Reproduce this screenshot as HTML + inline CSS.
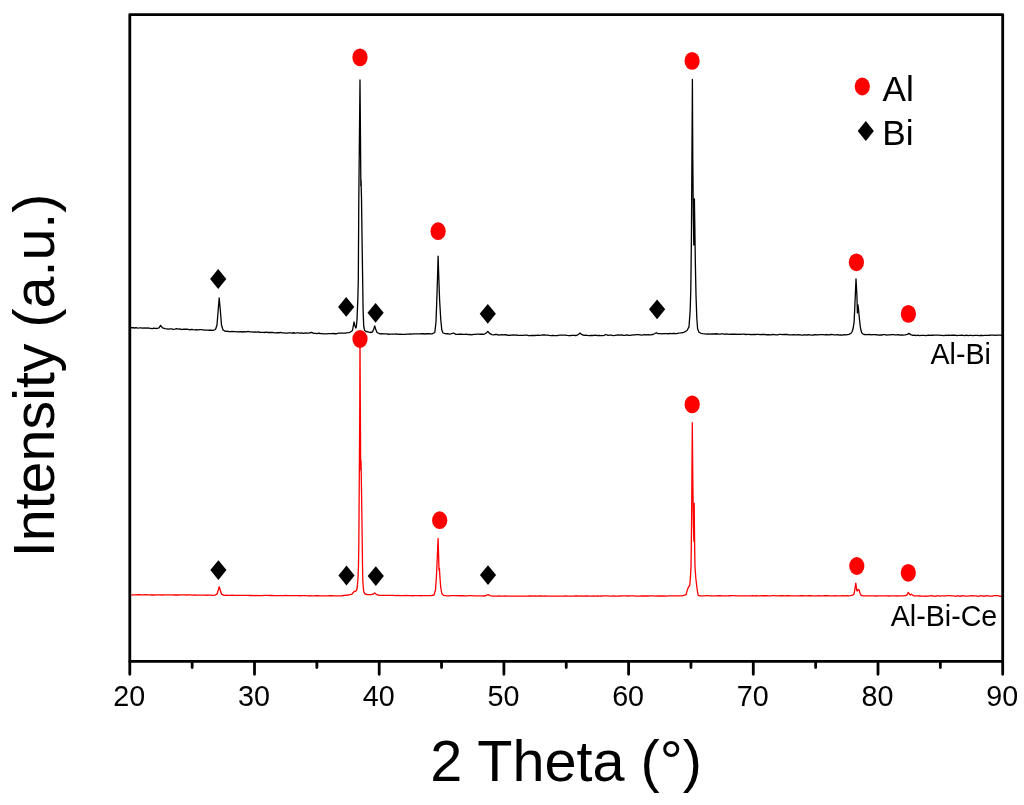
<!DOCTYPE html>
<html lang="en"><head><meta charset="utf-8"><title>XRD patterns of Al-Bi and Al-Bi-Ce</title>
<style>html,body{margin:0;padding:0;background:#fff;}body{width:1024px;height:805px;overflow:hidden;}svg{display:block;}text{font-family:"Liberation Sans",sans-serif;fill:#000;}</style></head><body>
<svg width="1024" height="805" viewBox="0 0 1024 805">
<rect width="1024" height="805" fill="#fff"/>
<path d="M129.75 327.80 L131.35 327.74 L132.96 327.67 L134.56 328.01 L136.16 327.71 L137.76 328.03 L139.37 327.97 L140.97 327.82 L142.57 328.13 L144.18 327.89 L145.78 328.17 L147.38 327.99 L148.99 328.05 L150.59 328.29 L152.19 328.57 L153.79 328.19 L155.40 328.29 L157.00 328.50 L159.00 327.80 L160.60 325.40 L162.50 327.80 L165.00 328.70 L166.67 328.84 L168.33 329.10 L170.00 328.95 L171.67 328.90 L173.33 329.32 L175.00 329.10 L176.60 328.60 L178.50 329.20 L180.14 328.98 L181.79 329.52 L183.43 329.23 L185.07 329.20 L186.71 329.23 L188.36 329.40 L190.00 329.76 L191.64 329.43 L193.29 329.72 L194.93 329.81 L196.57 329.70 L198.21 329.86 L199.86 329.62 L201.50 329.67 L203.14 329.81 L204.79 330.15 L206.43 330.05 L208.07 330.03 L209.71 330.25 L211.36 330.22 L213.00 330.30 L215.50 329.50 L217.00 325.00 L218.20 310.00 L219.20 298.00 L220.30 310.00 L221.50 325.00 L223.00 330.00 L225.50 331.30 L227.21 331.22 L228.92 331.56 L230.62 331.54 L232.33 331.31 L234.04 331.55 L235.75 331.57 L237.46 331.82 L239.17 331.77 L240.88 331.55 L242.58 332.00 L244.29 331.53 L246.00 331.80 L248.00 331.40 L250.00 331.90 L251.61 331.89 L253.23 332.14 L254.84 331.82 L256.45 332.06 L258.06 331.83 L259.68 332.25 L261.29 332.35 L262.90 332.28 L264.52 332.50 L266.13 332.21 L267.74 332.48 L269.35 332.46 L270.97 332.49 L272.58 332.46 L274.19 332.73 L275.81 332.84 L277.42 332.60 L279.03 332.75 L280.65 332.43 L282.26 332.86 L283.87 332.87 L285.48 333.12 L287.10 333.06 L288.71 332.78 L290.32 332.88 L291.94 333.09 L293.55 332.75 L295.16 333.05 L296.77 332.92 L298.39 332.93 L300.00 333.20 L301.80 332.94 L303.60 333.36 L305.40 332.98 L307.20 333.05 L309.00 333.20 L311.40 332.30 L314.00 333.40 L315.60 333.36 L317.20 333.68 L318.80 333.24 L320.40 333.49 L322.00 333.58 L323.60 333.81 L325.20 333.80 L326.80 333.86 L328.40 333.54 L330.00 333.70 L331.67 333.59 L333.33 333.50 L335.00 333.76 L336.67 333.75 L338.33 333.21 L340.00 333.17 L341.67 333.15 L343.33 333.10 L345.00 333.20 L346.67 332.89 L348.33 332.65 L350.00 332.30 L352.50 330.50 L353.30 326.00 L354.00 322.00 L355.00 326.00 L355.80 328.00 L356.30 327.00 L357.00 320.00 L357.80 300.00 L358.30 280.00 L358.80 200.00 L359.40 140.00 L360.00 80.00 L360.50 140.00 L360.85 186.00 L361.05 180.00 L361.50 198.00 L362.20 250.00 L362.70 282.00 L363.10 310.00 L363.70 326.00 L364.60 330.50 L366.00 331.50 L368.00 331.86 L370.00 332.50 L372.50 332.00 L373.80 329.00 L374.70 325.90 L375.80 329.50 L377.00 332.50 L380.00 333.80 L381.67 333.54 L383.33 333.82 L385.00 333.82 L386.67 333.97 L388.33 334.24 L390.00 334.11 L391.67 334.04 L393.33 334.14 L395.00 334.21 L396.67 333.87 L398.33 334.41 L400.00 334.20 L401.67 334.35 L403.33 334.40 L405.00 334.34 L406.67 334.08 L408.33 334.07 L410.00 333.88 L411.67 334.19 L413.33 333.83 L415.00 333.82 L416.67 333.89 L418.33 333.85 L420.00 333.94 L421.67 333.76 L423.33 333.71 L425.00 334.00 L426.75 333.74 L428.50 333.66 L430.25 333.77 L432.00 333.80 L434.80 332.50 L436.00 322.00 L436.80 300.00 L437.60 275.00 L438.10 256.10 L438.70 275.00 L439.60 300.00 L440.80 320.00 L441.80 330.00 L443.00 333.00 L446.00 333.90 L447.67 333.58 L449.33 334.06 L451.00 333.80 L453.40 333.00 L456.00 334.30 L457.75 334.39 L459.50 334.14 L461.25 334.23 L463.00 334.31 L464.75 334.34 L466.50 334.22 L468.25 334.68 L470.00 334.50 L471.75 334.77 L473.50 334.43 L475.25 334.42 L477.00 334.15 L478.75 334.14 L480.50 334.26 L482.25 334.18 L484.00 334.30 L486.30 333.00 L487.80 331.40 L489.50 333.30 L492.00 334.60 L493.65 334.84 L495.29 334.48 L496.94 334.44 L498.59 335.04 L500.24 334.82 L501.88 334.64 L503.53 334.91 L505.18 334.65 L506.82 334.99 L508.47 335.30 L510.12 335.27 L511.76 335.21 L513.41 334.99 L515.06 335.10 L516.71 335.02 L518.35 335.42 L520.00 335.30 L521.63 335.32 L523.26 335.47 L524.89 335.20 L526.51 335.13 L528.14 335.49 L529.77 335.59 L531.40 335.51 L533.03 335.48 L534.66 335.49 L536.29 335.44 L537.91 335.14 L539.54 335.31 L541.17 335.21 L542.80 335.02 L544.43 335.02 L546.06 335.17 L547.69 335.16 L549.31 335.42 L550.94 335.57 L552.57 335.27 L554.20 335.56 L555.83 335.59 L557.46 335.57 L559.09 335.22 L560.71 335.13 L562.34 335.14 L563.97 335.12 L565.60 335.12 L567.23 335.37 L568.86 335.54 L570.49 335.50 L572.11 335.29 L573.74 335.39 L575.37 335.48 L577.00 335.30 L579.00 334.00 L580.00 333.10 L581.50 334.30 L584.00 335.30 L585.67 335.06 L587.33 335.41 L589.00 335.57 L590.67 335.50 L592.33 335.49 L594.00 335.34 L595.67 335.17 L597.33 335.54 L599.00 335.27 L600.67 335.56 L602.33 335.67 L604.00 335.40 L606.00 334.50 L608.00 335.30 L609.71 335.22 L611.43 335.21 L613.14 335.53 L614.86 335.38 L616.57 335.03 L618.29 334.99 L620.00 335.20 L621.67 334.96 L623.33 335.38 L625.00 335.28 L626.67 334.85 L628.33 335.23 L630.00 335.29 L631.67 335.06 L633.33 334.84 L635.00 334.93 L636.67 334.65 L638.33 334.54 L640.00 334.80 L641.62 335.05 L643.25 334.81 L644.88 334.70 L646.50 334.91 L648.12 334.57 L649.75 334.80 L651.38 334.73 L653.00 334.50 L655.00 333.50 L656.30 332.70 L658.00 333.60 L660.00 333.58 L662.00 333.90 L663.62 333.70 L665.25 333.68 L666.88 333.59 L668.50 333.75 L670.12 333.51 L671.75 333.55 L673.38 333.33 L675.00 333.50 L676.75 333.57 L678.50 333.06 L680.25 332.95 L682.00 332.80 L685.00 331.80 L687.00 330.50 L689.00 326.90 L690.20 310.00 L690.80 290.00 L691.40 240.00 L691.90 160.00 L692.40 79.50 L692.80 160.00 L693.30 215.00 L693.80 245.00 L694.00 225.00 L694.40 199.00 L694.80 225.00 L695.30 260.00 L696.00 295.00 L696.80 318.00 L697.60 328.80 L699.00 332.20 L701.00 333.30 L703.00 333.60 L705.00 333.80 L706.67 334.08 L708.33 333.82 L710.00 334.15 L711.67 333.93 L713.33 333.99 L715.00 334.01 L716.67 333.74 L718.33 334.03 L720.00 334.10 L721.60 333.92 L723.20 333.83 L724.80 334.32 L726.40 333.96 L728.00 334.15 L729.60 334.32 L731.20 334.23 L732.80 334.11 L734.40 334.24 L736.00 334.27 L737.60 334.42 L739.20 334.03 L740.80 334.32 L742.40 334.15 L744.00 334.18 L745.60 334.49 L747.20 334.34 L748.80 334.39 L750.40 334.52 L752.00 334.63 L753.60 334.36 L755.20 334.48 L756.80 334.43 L758.40 334.44 L760.00 334.57 L761.60 334.44 L763.20 334.50 L764.80 334.48 L766.40 334.77 L768.00 334.64 L769.60 334.76 L771.20 334.81 L772.80 334.42 L774.40 334.61 L776.00 334.86 L777.60 334.81 L779.20 334.40 L780.80 334.40 L782.40 334.61 L784.00 334.40 L785.60 334.52 L787.20 334.43 L788.80 334.80 L790.40 334.89 L792.00 334.97 L793.60 334.54 L795.20 334.89 L796.80 334.87 L798.40 334.57 L800.00 334.80 L801.64 335.03 L803.29 335.08 L804.93 334.63 L806.57 335.07 L808.21 334.74 L809.86 334.79 L811.50 335.09 L813.14 335.00 L814.79 334.60 L816.43 334.76 L818.07 334.81 L819.71 334.70 L821.36 334.62 L823.00 334.69 L824.64 334.93 L826.29 334.51 L827.93 334.83 L829.57 334.76 L831.21 334.51 L832.86 334.70 L834.50 334.87 L836.14 334.81 L837.79 334.54 L839.43 335.09 L841.07 334.97 L842.71 335.08 L844.36 334.56 L846.00 334.80 L849.00 334.40 L851.00 333.20 L852.20 331.50 L853.20 328.00 L854.10 322.20 L854.80 307.30 L855.40 293.30 L856.00 278.90 L856.50 288.00 L856.90 295.20 L857.20 306.00 L857.40 312.90 L857.70 308.00 L858.00 305.00 L858.50 309.00 L859.00 314.70 L859.60 320.50 L860.20 325.90 L860.90 330.00 L861.60 332.40 L862.60 333.80 L863.90 334.50 L866.00 334.70 L867.75 334.57 L869.50 334.45 L871.25 334.90 L873.00 334.61 L874.75 334.54 L876.50 334.73 L878.25 335.03 L880.00 334.80 L881.67 335.00 L883.33 334.67 L885.00 334.61 L886.67 335.08 L888.33 334.88 L890.00 334.96 L891.67 334.60 L893.33 334.59 L895.00 334.97 L896.67 334.82 L898.33 334.62 L900.00 335.14 L901.67 334.97 L903.33 335.07 L905.00 334.90 L907.30 334.40 L909.00 333.40 L910.70 334.60 L913.00 335.40 L914.62 335.15 L916.24 335.61 L917.86 335.14 L919.48 335.62 L921.10 335.37 L922.72 335.30 L924.34 335.43 L925.97 335.66 L927.59 335.26 L929.21 335.18 L930.83 335.42 L932.45 335.24 L934.07 335.17 L935.69 335.20 L937.31 335.13 L938.93 335.22 L940.55 335.29 L942.17 335.28 L943.79 335.56 L945.41 335.27 L947.03 335.40 L948.66 335.21 L950.28 335.31 L951.90 335.11 L953.52 335.25 L955.14 335.11 L956.76 335.54 L958.38 335.43 L960.00 335.40 L961.62 335.21 L963.23 335.38 L964.85 335.65 L966.46 335.15 L968.08 335.57 L969.69 335.34 L971.31 335.37 L972.92 335.57 L974.54 335.30 L976.15 335.37 L977.77 335.47 L979.38 335.64 L981.00 335.26 L982.62 335.55 L984.23 335.47 L985.85 335.42 L987.46 335.28 L989.08 335.24 L990.69 335.06 L992.31 335.10 L993.92 335.06 L995.54 335.46 L997.15 335.16 L998.77 335.11 L1000.38 335.05 L1002.00 335.30" fill="none" stroke="#000" stroke-width="1.3" stroke-linejoin="round"/>
<path d="M129.75 594.80 L131.77 594.89 L133.78 594.90 L135.80 594.86 L137.82 594.77 L139.83 594.77 L141.85 594.79 L143.87 594.84 L145.88 594.77 L147.90 594.85 L149.92 594.81 L151.93 594.98 L153.95 594.99 L155.97 594.90 L157.98 594.83 L160.00 594.90 L162.04 595.02 L164.07 594.88 L166.11 594.90 L168.15 594.82 L170.19 594.93 L172.22 594.96 L174.26 594.98 L176.30 594.92 L178.33 595.00 L180.37 594.89 L182.41 594.97 L184.44 594.93 L186.48 595.02 L188.52 594.95 L190.56 594.95 L192.59 595.03 L194.63 595.02 L196.67 595.12 L198.70 595.12 L200.74 595.18 L202.78 595.17 L204.81 595.20 L206.85 595.25 L208.89 595.14 L210.93 595.14 L212.96 595.31 L215.00 595.20 L217.00 594.20 L218.30 590.00 L219.20 586.80 L220.20 590.00 L221.50 594.20 L224.00 595.30 L226.00 595.23 L228.00 595.37 L230.00 595.37 L232.00 595.23 L234.00 595.43 L236.00 595.46 L238.00 595.40 L240.00 595.44 L242.00 595.47 L244.00 595.32 L246.00 595.42 L248.00 595.43 L250.00 595.51 L252.00 595.52 L254.00 595.53 L256.00 595.49 L258.00 595.57 L260.00 595.53 L262.00 595.54 L264.00 595.44 L266.00 595.40 L268.00 595.44 L270.00 595.50 L272.00 595.45 L274.00 595.64 L276.00 595.58 L278.00 595.61 L280.00 595.62 L282.00 595.64 L284.00 595.61 L286.00 595.50 L288.00 595.70 L290.00 595.70 L292.00 595.65 L294.00 595.67 L296.00 595.71 L298.00 595.58 L300.00 595.75 L302.00 595.64 L304.00 595.61 L306.00 595.67 L308.00 595.79 L310.00 595.67 L312.00 595.81 L314.00 595.88 L316.00 595.77 L318.00 595.76 L320.00 595.79 L322.00 595.85 L324.00 595.88 L326.00 595.86 L328.00 595.87 L330.00 595.75 L332.00 595.77 L334.00 595.81 L336.00 595.94 L338.00 595.84 L340.00 595.90 L342.00 595.74 L344.00 595.43 L346.00 595.27 L348.00 595.20 L350.00 594.64 L352.00 594.20 L353.30 592.50 L354.00 591.50 L355.50 591.30 L356.50 590.50 L357.30 587.00 L358.00 578.00 L358.50 565.00 L358.80 545.00 L359.00 520.00 L359.30 477.00 L359.70 420.00 L360.00 342.00 L360.30 400.00 L360.60 455.00 L360.75 470.00 L361.00 460.60 L361.30 477.00 L361.80 510.00 L362.20 540.00 L362.50 565.00 L362.80 580.00 L363.30 588.00 L364.00 592.50 L365.20 594.00 L367.00 594.50 L369.00 594.59 L371.00 594.60 L373.00 594.20 L374.70 592.90 L376.30 594.30 L379.00 595.30 L381.10 595.38 L383.20 595.40 L385.30 595.34 L387.40 595.42 L389.50 595.44 L391.60 595.47 L393.70 595.42 L395.80 595.63 L397.90 595.50 L400.00 595.60 L402.07 595.72 L404.13 595.72 L406.20 595.50 L408.27 595.62 L410.33 595.71 L412.40 595.75 L414.47 595.63 L416.53 595.60 L418.60 595.59 L420.67 595.77 L422.73 595.60 L424.80 595.70 L426.87 595.60 L428.93 595.70 L431.00 595.70 L434.00 595.00 L435.50 590.00 L436.50 575.00 L437.40 555.00 L438.10 538.50 L438.60 555.00 L439.00 570.00 L439.40 568.40 L440.00 578.00 L440.80 588.00 L441.80 593.50 L443.50 595.30 L447.00 595.80 L449.00 595.84 L451.00 595.58 L453.00 595.60 L455.07 595.70 L457.13 595.66 L459.20 595.77 L461.27 595.76 L463.33 595.67 L465.40 595.86 L467.47 595.78 L469.53 595.70 L471.60 595.72 L473.67 595.86 L475.73 595.88 L477.80 595.87 L479.87 595.86 L481.93 595.94 L484.00 596.00 L486.00 595.50 L488.00 594.70 L490.00 595.60 L493.00 596.10 L495.01 596.05 L497.02 596.18 L499.04 595.98 L501.05 596.16 L503.06 596.18 L505.07 596.00 L507.08 596.19 L509.10 596.14 L511.11 596.19 L513.12 596.04 L515.13 596.06 L517.14 596.06 L519.16 596.20 L521.17 596.10 L523.18 596.05 L525.19 596.06 L527.20 596.03 L529.22 595.97 L531.23 595.98 L533.24 596.16 L535.25 596.02 L537.27 596.18 L539.28 596.01 L541.29 596.01 L543.30 596.07 L545.31 595.99 L547.33 596.04 L549.34 596.18 L551.35 596.16 L553.36 596.14 L555.37 596.09 L557.39 596.16 L559.40 596.17 L561.41 596.07 L563.42 596.11 L565.43 595.95 L567.45 596.11 L569.46 596.04 L571.47 596.11 L573.48 596.09 L575.49 596.00 L577.51 595.94 L579.52 596.15 L581.53 595.96 L583.54 596.04 L585.55 596.01 L587.57 595.99 L589.58 596.10 L591.59 596.16 L593.60 595.98 L595.61 596.08 L597.63 595.99 L599.64 596.05 L601.65 596.01 L603.66 595.95 L605.67 595.95 L607.69 595.96 L609.70 596.13 L611.71 596.03 L613.72 595.96 L615.73 596.12 L617.75 596.14 L619.76 596.01 L621.77 595.94 L623.78 595.95 L625.80 595.92 L627.81 595.98 L629.82 595.92 L631.83 595.95 L633.84 595.96 L635.86 596.03 L637.87 596.11 L639.88 596.07 L641.89 595.99 L643.90 595.99 L645.92 596.01 L647.93 595.98 L649.94 595.97 L651.95 595.90 L653.96 595.95 L655.98 596.11 L657.99 595.91 L660.00 596.00 L662.13 595.98 L664.26 595.99 L666.39 596.03 L668.52 595.85 L670.65 595.85 L672.78 595.82 L674.91 595.84 L677.04 595.83 L679.17 595.93 L681.30 595.80 L685.00 595.20 L686.10 594.50 L687.40 589.70 L688.50 587.00 L689.70 585.60 L690.40 578.00 L691.00 567.00 L691.50 528.40 L691.90 480.00 L692.30 422.60 L692.80 480.00 L693.40 525.00 L693.90 541.30 L694.05 520.00 L694.20 503.40 L694.40 525.00 L694.70 550.00 L695.00 567.00 L695.80 578.00 L696.60 584.80 L697.40 591.00 L698.20 595.30 L700.00 595.80 L702.01 595.88 L704.03 595.89 L706.04 595.69 L708.05 595.69 L710.07 595.85 L712.08 595.89 L714.09 595.79 L716.11 595.82 L718.12 595.68 L720.14 595.77 L722.15 595.90 L724.16 595.88 L726.18 595.89 L728.19 595.91 L730.20 595.74 L732.22 595.71 L734.23 595.72 L736.24 595.81 L738.26 595.84 L740.27 595.91 L742.28 595.85 L744.30 595.84 L746.31 595.86 L748.32 595.79 L750.34 595.81 L752.35 595.69 L754.36 595.87 L756.38 595.74 L758.39 595.90 L760.41 595.83 L762.42 595.75 L764.43 595.71 L766.45 595.74 L768.46 595.83 L770.47 595.85 L772.49 595.71 L774.50 595.70 L776.51 595.81 L778.53 595.82 L780.54 595.77 L782.55 595.73 L784.57 595.82 L786.58 595.68 L788.59 595.75 L790.61 595.79 L792.62 595.91 L794.64 595.83 L796.65 595.89 L798.66 595.79 L800.68 595.74 L802.69 595.74 L804.70 595.91 L806.72 595.85 L808.73 595.75 L810.74 595.69 L812.76 595.80 L814.77 595.84 L816.78 595.78 L818.80 595.74 L820.81 595.84 L822.82 595.90 L824.84 595.73 L826.85 595.69 L828.86 595.76 L830.88 595.78 L832.89 595.84 L834.91 595.73 L836.92 595.87 L838.93 595.86 L840.95 595.80 L842.96 595.73 L844.97 595.91 L846.99 595.75 L849.00 595.80 L850.50 595.70 L852.50 595.20 L854.10 593.70 L854.90 589.30 L855.40 585.50 L855.80 583.20 L856.20 586.00 L856.70 590.20 L857.10 591.10 L857.70 589.90 L858.50 589.50 L859.20 590.30 L860.20 593.70 L861.00 595.10 L862.00 595.70 L864.00 595.88 L866.00 595.90 L868.06 595.84 L870.11 595.83 L872.17 595.96 L874.22 595.85 L876.28 596.01 L878.33 595.90 L880.39 595.82 L882.44 595.83 L884.50 595.88 L886.56 595.94 L888.61 596.01 L890.67 595.82 L892.72 595.87 L894.78 595.83 L896.83 596.01 L898.89 595.81 L900.94 595.79 L903.00 595.90 L905.50 595.70 L907.20 594.60 L907.90 593.20 L908.40 592.40 L909.00 593.30 L909.70 594.50 L910.30 595.00 L911.00 594.50 L911.60 594.20 L912.50 595.00 L913.80 595.90 L915.80 595.80 L917.81 595.88 L919.81 596.00 L921.82 596.18 L923.82 596.07 L925.83 596.26 L927.83 596.22 L929.84 595.80 L931.84 595.70 L933.85 596.23 L935.85 596.10 L937.85 595.60 L939.86 596.04 L941.86 595.85 L943.87 595.85 L945.87 595.82 L947.88 595.71 L949.88 595.59 L951.89 595.79 L953.89 595.84 L955.90 596.27 L957.90 595.69 L959.90 596.28 L961.91 595.75 L963.91 595.86 L965.92 596.18 L967.92 596.19 L969.93 595.92 L971.93 595.65 L973.94 595.95 L975.94 595.88 L977.95 596.27 L979.95 595.76 L981.95 595.88 L983.96 596.26 L985.96 595.65 L987.97 595.92 L989.97 596.20 L991.98 596.18 L993.98 595.67 L995.99 595.67 L997.99 595.69 L1000.00 596.29 L1002.00 596.00" fill="none" stroke="#ff0000" stroke-width="1.3" stroke-linejoin="round"/>
<rect x="129.80" y="14.55" width="872.90" height="646.85" fill="none" stroke="#000" stroke-width="2.8" stroke-linejoin="round"/>
<path d="M129.80 661.40 V674.30 M192.15 661.40 V667.50 M254.50 661.40 V674.30 M316.85 661.40 V667.50 M379.20 661.40 V674.30 M441.55 661.40 V667.50 M503.90 661.40 V674.30 M566.25 661.40 V667.50 M628.60 661.40 V674.30 M690.95 661.40 V667.50 M753.30 661.40 V674.30 M815.65 661.40 V667.50 M878.00 661.40 V674.30 M940.35 661.40 V667.50 M1002.70 661.40 V674.30" stroke="#000" stroke-width="2.8" stroke-linecap="round" fill="none"/>
<text transform="translate(129.30 705.50) scale(1 1.030)" font-size="28.70" text-anchor="middle">20</text>
<text transform="translate(254.00 705.50) scale(1 1.030)" font-size="28.70" text-anchor="middle">30</text>
<text transform="translate(378.70 705.50) scale(1 1.030)" font-size="28.70" text-anchor="middle">40</text>
<text transform="translate(503.40 705.50) scale(1 1.030)" font-size="28.70" text-anchor="middle">50</text>
<text transform="translate(628.10 705.50) scale(1 1.030)" font-size="28.70" text-anchor="middle">60</text>
<text transform="translate(752.80 705.50) scale(1 1.030)" font-size="28.70" text-anchor="middle">70</text>
<text transform="translate(877.50 705.50) scale(1 1.030)" font-size="28.70" text-anchor="middle">80</text>
<text transform="translate(1002.20 705.50) scale(1 1.030)" font-size="28.70" text-anchor="middle">90</text>
<ellipse cx="360.0" cy="57.4" rx="7.6" ry="8.9" fill="#ff0000"/>
<ellipse cx="692.1" cy="60.9" rx="7.6" ry="8.9" fill="#ff0000"/>
<ellipse cx="862.3" cy="86.5" rx="7.6" ry="8.9" fill="#ff0000"/>
<ellipse cx="438.1" cy="231.2" rx="7.6" ry="8.9" fill="#ff0000"/>
<ellipse cx="856.4" cy="262.3" rx="7.6" ry="8.9" fill="#ff0000"/>
<ellipse cx="908.4" cy="313.9" rx="7.6" ry="8.9" fill="#ff0000"/>
<ellipse cx="360.0" cy="339.0" rx="7.6" ry="8.9" fill="#ff0000"/>
<ellipse cx="692.2" cy="404.4" rx="7.6" ry="8.9" fill="#ff0000"/>
<ellipse cx="439.7" cy="520.2" rx="7.6" ry="8.9" fill="#ff0000"/>
<ellipse cx="856.8" cy="566.0" rx="7.6" ry="8.9" fill="#ff0000"/>
<ellipse cx="908.3" cy="572.8" rx="7.6" ry="8.9" fill="#ff0000"/>
<path d="M218.2 269.1 L226.3 279.0 L218.2 288.9 L210.1 279.0Z" fill="#000"/>
<path d="M346.2 297.0 L354.3 306.9 L346.2 316.8 L338.1 306.9Z" fill="#000"/>
<path d="M375.6 302.9 L383.7 312.8 L375.6 322.7 L367.5 312.8Z" fill="#000"/>
<path d="M487.8 303.9 L495.9 313.8 L487.8 323.7 L479.7 313.8Z" fill="#000"/>
<path d="M657.1 299.4 L665.2 309.3 L657.1 319.2 L649.0 309.3Z" fill="#000"/>
<path d="M865.8 121.1 L873.9 131.0 L865.8 140.9 L857.7 131.0Z" fill="#000"/>
<path d="M218.4 560.2 L226.5 570.1 L218.4 580.0 L210.3 570.1Z" fill="#000"/>
<path d="M346.5 565.6 L354.6 575.5 L346.5 585.4 L338.4 575.5Z" fill="#000"/>
<path d="M375.8 566.2 L383.9 576.1 L375.8 586.0 L367.7 576.1Z" fill="#000"/>
<path d="M488.0 565.2 L496.1 575.1 L488.0 585.0 L479.9 575.1Z" fill="#000"/>
<text transform="translate(882.50 100.70) scale(1 1.020)" font-size="35.20" text-anchor="start">Al</text>
<text transform="translate(882.20 145.20) scale(1 1.020)" font-size="35.20" text-anchor="start">Bi</text>
<text transform="translate(990.90 364.30) scale(1 1.030)" font-size="28.60" text-anchor="end">Al-Bi</text>
<text transform="translate(997.20 626.30) scale(1 1.030)" font-size="28.60" text-anchor="end">Al-Bi-Ce</text>
<text transform="translate(430.30 781.20) scale(1 1.010)" font-size="57.60" text-anchor="start">2 Theta (°)</text>
<text transform="translate(54.40 375.40) rotate(-90) scale(1 1.000)" font-size="57.40" text-anchor="middle">Intensity (a.u.)</text>
</svg></body></html>
